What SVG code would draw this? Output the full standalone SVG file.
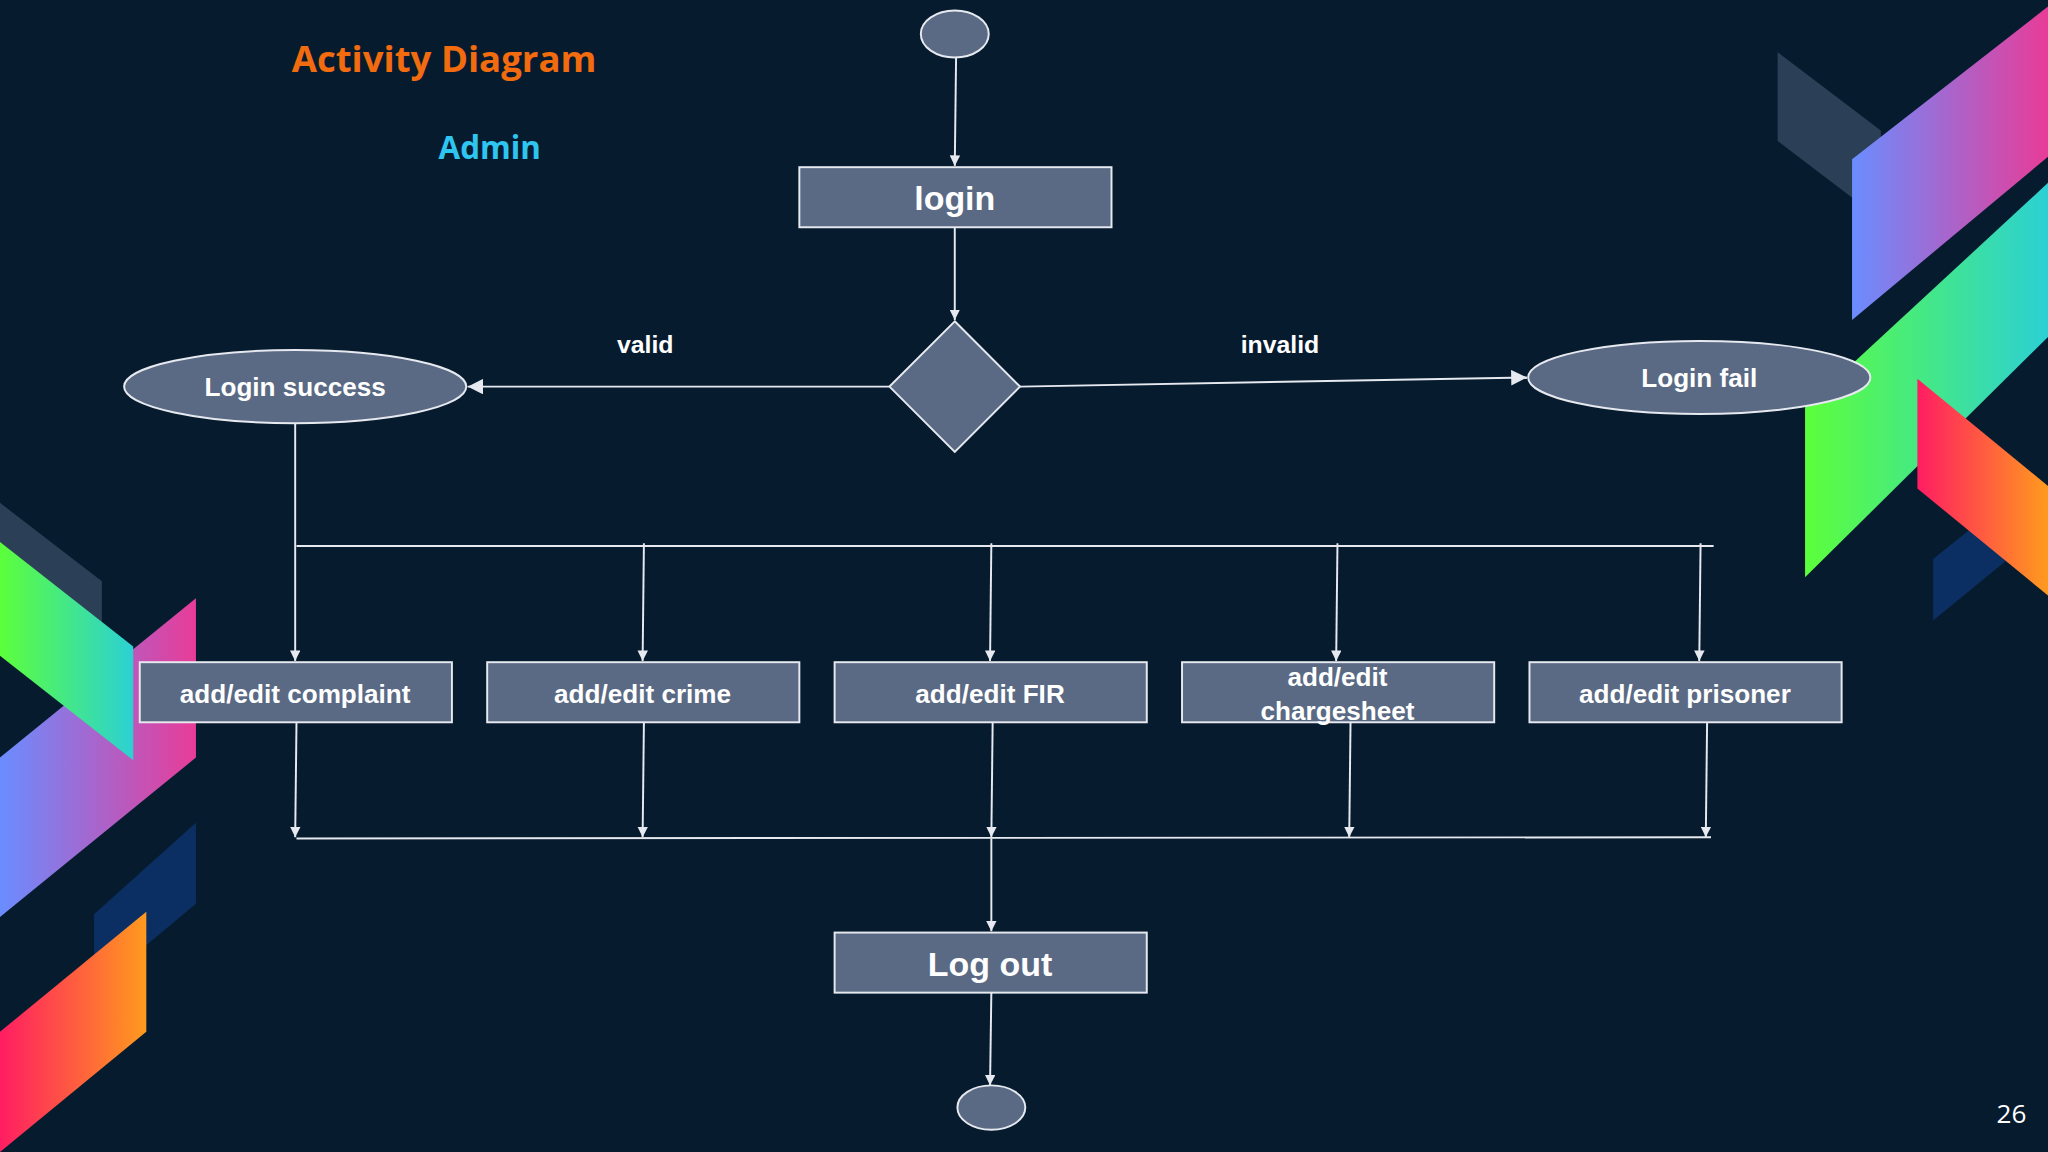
<svg xmlns="http://www.w3.org/2000/svg" width="2048" height="1152" viewBox="0 0 2048 1152">
<defs>
<style>
.n{fill:#5a6a84;stroke:#e6e9ef;stroke-width:1.5}
.c{stroke:#e6e9ef;stroke-width:1.5;fill:none}
.t{font-family:"Liberation Sans",Arial,sans-serif;font-weight:bold;fill:#fff;text-anchor:middle}
</style>
<marker id="a" viewBox="0 0 10 10" refX="10" refY="5" markerWidth="8" markerHeight="8" orient="auto" markerUnits="userSpaceOnUse"><path d="M0,0L10,5L0,10z" fill="#e6e9ef"/></marker>
<marker id="b" viewBox="0 0 10 10" refX="10" refY="5" markerWidth="12" markerHeight="12" orient="auto" markerUnits="userSpaceOnUse"><path d="M0,0L10,5L0,10z" fill="#e6e9ef"/></marker>
<linearGradient id="g1" x1="0" y1="0" x2="1" y2="0"><stop offset="0" stop-color="#6a8dff"/><stop offset="1" stop-color="#e83c98"/></linearGradient>
<linearGradient id="g2" x1="0" y1="0" x2="1" y2="0"><stop offset="0" stop-color="#5cff3a"/><stop offset="1" stop-color="#2cd0d4"/></linearGradient>
<linearGradient id="g3" x1="0" y1="0" x2="1" y2="0"><stop offset="0" stop-color="#ff1d62"/><stop offset="1" stop-color="#ff9a1e"/></linearGradient>
</defs>
<rect width="2048" height="1152" fill="#071b2f"/>
<g transform="scale(1.306122)">
<g id="decor">
<polygon points="1361,40 1440,100 1440,168 1361,108" fill="#3a5068" opacity="0.7"/>
<polygon points="1418,122 1568,5 1568,120 1418,245" fill="url(#g1)"/>
<polygon points="1382,312 1568,140 1568,258 1382,442" fill="url(#g2)"/>
<polygon points="1480,428 1535,384 1535,430 1480,475" fill="#0b2f63"/>
<polygon points="1468,290 1568,372 1568,456 1468,374" fill="url(#g3)"/>
<polygon points="0,385 78,445 78,510 0,450" fill="#3a5068" opacity="0.7"/>
<polygon points="0,580 150,458 150,580 0,702" fill="url(#g1)"/>
<polygon points="0,415 102,495 102,582 0,502" fill="url(#g2)"/>
<polygon points="72,700 150,630 150,692 72,757" fill="#0b2f63"/>
<polygon points="0,790 112,698 112,790 0,882" fill="url(#g3)"/>
</g>
<text x="340" y="55" font-family="Open Sans,sans-serif" font-weight="bold" font-size="28" fill="#f26b0f" text-anchor="middle">Activity Diagram</text>
<text x="375" y="122" font-family="Open Sans,sans-serif" font-weight="bold" font-size="24" fill="#2ec5f0" text-anchor="middle">Admin</text>
<text x="1540" y="860" font-family="Open Sans,sans-serif" font-size="20" fill="#fff" text-anchor="middle">26</text>
<g id="connectors">
<path class="c" d="M732,44 L731,127" marker-end="url(#a)"/>
<path class="c" d="M731,174 L731,245" marker-end="url(#a)"/>
<path class="c" d="M681,296 L358,296" marker-end="url(#b)"/>
<path class="c" d="M781,296 L1169,289" marker-end="url(#b)"/>
<path class="c" d="M226,324 L226,506" marker-end="url(#a)"/>
<path class="c" d="M227,418 L1312,418"/>
<path class="c" d="M493,416 L492,506" marker-end="url(#a)"/>
<path class="c" d="M759,416 L758,506" marker-end="url(#a)"/>
<path class="c" d="M1024,416 L1023,506" marker-end="url(#a)"/>
<path class="c" d="M1302,416 L1301,506" marker-end="url(#a)"/>
<path class="c" d="M227,553 L226,641" marker-end="url(#a)"/>
<path class="c" d="M493,553 L492,641" marker-end="url(#a)"/>
<path class="c" d="M760,553 L759,641" marker-end="url(#a)"/>
<path class="c" d="M1034,553 L1033,641" marker-end="url(#a)"/>
<path class="c" d="M1307,553 L1306,641" marker-end="url(#a)"/>
<path class="c" d="M227,642 L1310,641"/>
<path class="c" d="M759,642 L759,713" marker-end="url(#a)"/>
<path class="c" d="M759,760 L758,831" marker-end="url(#a)"/>
</g>
<text class="t" x="494" y="270" font-size="19">valid</text>
<text class="t" x="980" y="270" font-size="19">invalid</text>
<g id="start"><ellipse class="n" cx="731" cy="26" rx="26" ry="18"/></g>
<g id="login"><rect class="n" x="612" y="128" width="239" height="46"/><text class="t" x="731" y="161" font-size="26">login</text></g>
<g id="decision"><polygon class="n" points="731,246 781,296 731,346 681,296"/></g>
<g id="success"><ellipse class="n" cx="226" cy="296" rx="131" ry="28"/><text class="t" x="226" y="303" font-size="20">Login success</text></g>
<g id="fail"><ellipse class="n" cx="1301" cy="289" rx="131" ry="28"/><text class="t" x="1301" y="296" font-size="20">Login fail</text></g>
<g id="complaint"><rect class="n" x="107" y="507" width="239" height="46"/><text class="t" x="226" y="538" font-size="20">add/edit complaint</text></g>
<g id="crime"><rect class="n" x="373" y="507" width="239" height="46"/><text class="t" x="492" y="538" font-size="20">add/edit crime</text></g>
<g id="fir"><rect class="n" x="639" y="507" width="239" height="46"/><text class="t" x="758" y="538" font-size="20">add/edit FIR</text></g>
<g id="chargesheet"><rect class="n" x="905" y="507" width="239" height="46"/><text class="t" x="1024" y="525" font-size="20">add/edit</text><text class="t" x="1024" y="551" font-size="20">chargesheet</text></g>
<g id="prisoner"><rect class="n" x="1171" y="507" width="239" height="46"/><text class="t" x="1290" y="538" font-size="20">add/edit prisoner</text></g>
<g id="logout"><rect class="n" x="639" y="714" width="239" height="46"/><text class="t" x="758" y="747" font-size="26">Log out</text></g>
<g id="end"><ellipse class="n" cx="759" cy="848" rx="26" ry="17"/></g>
</g>
</svg>
